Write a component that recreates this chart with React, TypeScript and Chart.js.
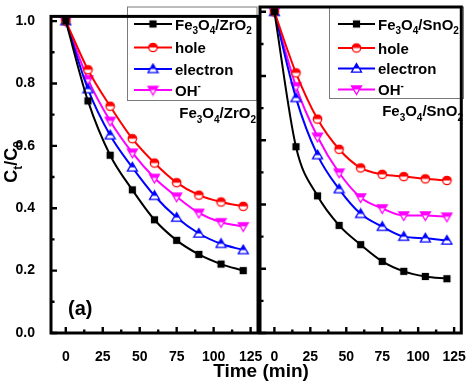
import React, { useEffect, useRef } from 'react';
import { Chart, registerables } from 'chart.js';

Chart.register(...registerables);

// Irradiation time (min)
const timeMin = [0, 15, 30, 45, 60, 75, 90, 105, 120];

// Fe3O4/ZrO2 panel: no scavenger, hole, electron and OH- scavengers
const zrCatalyst = [1.0, 0.744, 0.57, 0.459, 0.363, 0.297, 0.252, 0.221, 0.2];
const zrHole = [1.0, 0.844, 0.727, 0.623, 0.545, 0.482, 0.442, 0.42, 0.406];
const zrElectron = [1.0, 0.782, 0.634, 0.531, 0.44, 0.37, 0.319, 0.286, 0.266];
const zrOH = [1.0, 0.813, 0.68, 0.578, 0.497, 0.437, 0.385, 0.355, 0.342];

// Fe3O4/SnO2 panel
const snCatalyst = [1.0, 0.58, 0.427, 0.335, 0.275, 0.223, 0.192, 0.176, 0.169];
const snHole = [1.0, 0.81, 0.666, 0.572, 0.514, 0.494, 0.487, 0.48, 0.475];
const snElectron = [1.0, 0.732, 0.554, 0.448, 0.371, 0.331, 0.3, 0.295, 0.288];
const snOH = [1.0, 0.768, 0.611, 0.499, 0.422, 0.388, 0.366, 0.366, 0.362];

const xTickValues = [0, 25, 50, 75, 100, 125];
const xMinorValues = [12.5, 37.5, 62.5, 87.5, 112.5];
const yTickValues = [0, 0.2, 0.4, 0.6, 0.8, 1.0];
const yMinorValues = [0.1, 0.3, 0.5, 0.7, 0.9];

const seriesColors = ['#000000', '#ff0000', '#0000ff', '#ff00ff'];
const markerKinds = ['square', 'circle', 'triUp', 'triDown'];

const FONT = 'Arial, "Liberation Sans", Helvetica, sans-serif';

type Kind = 'n' | 'sub' | 'sup';
type Part = [string, Kind];

const zrLabel: Part[] = [['Fe', 'n'], ['3', 'sub'], ['O', 'n'], ['4', 'sub'], ['/ZrO', 'n'], ['2', 'sub']];
const snLabel: Part[] = [['Fe', 'n'], ['3', 'sub'], ['O', 'n'], ['4', 'sub'], ['/SnO', 'n'], ['2', 'sub']];
const holeLabel: Part[] = [['hole', 'n']];
const electronLabel: Part[] = [['electron', 'n']];
const ohLabel: Part[] = [['OH', 'n'], ['-', 'sup']];
const yTitle: Part[] = [['C', 'n'], ['t', 'sub'], ['/C', 'n'], ['0', 'sub']];

function partFont(kind: Kind, size: number) {
  const s = kind === 'n' ? size : Math.round(size * 0.68);
  return `bold ${s}px ${FONT}`;
}

function richWidth(ctx: CanvasRenderingContext2D, parts: Part[], size: number) {
  let w = 0;
  for (const [t, k] of parts) {
    ctx.font = partFont(k, size);
    w += ctx.measureText(t).width;
  }
  return w;
}

function drawRich(
  ctx: CanvasRenderingContext2D,
  parts: Part[],
  x: number,
  y: number,
  size: number,
  align: 'left' | 'center' | 'right' = 'left'
) {
  const w = richWidth(ctx, parts, size);
  let cx = align === 'left' ? x : align === 'center' ? x - w / 2 : x - w;
  ctx.save();
  ctx.fillStyle = '#000';
  ctx.textBaseline = 'alphabetic';
  ctx.textAlign = 'left';
  for (const [t, k] of parts) {
    ctx.font = partFont(k, size);
    const dy = k === 'sub' ? size * 0.3 : k === 'sup' ? -size * 0.42 : 0;
    ctx.fillText(t, cx, y + dy);
    cx += ctx.measureText(t).width;
  }
  ctx.restore();
}

// Origin-style symbols: solid square, half-filled circle and triangles
function makeMarker(kind: string, color: string): HTMLCanvasElement {
  const c = document.createElement('canvas');
  c.width = 13;
  c.height = 13;
  const g = c.getContext('2d') as CanvasRenderingContext2D;
  const cx = 6.5;
  const cy = 6.5;
  if (kind === 'square') {
    g.fillStyle = color;
    g.fillRect(cx - 3.6, cy - 3.6, 7.2, 7.2);
    return c;
  }
  const path = new Path2D();
  if (kind === 'circle') {
    path.arc(cx, cy, 4.2, 0, Math.PI * 2);
  } else if (kind === 'triUp') {
    path.moveTo(cx, cy - 5);
    path.lineTo(cx + 5, cy + 3.6);
    path.lineTo(cx - 5, cy + 3.6);
    path.closePath();
  } else {
    path.moveTo(cx, cy + 5);
    path.lineTo(cx + 5, cy - 3.6);
    path.lineTo(cx - 5, cy - 3.6);
    path.closePath();
  }
  g.fillStyle = '#ffffff';
  g.fill(path);
  g.save();
  g.beginPath();
  g.rect(0, 0, 13, cy);
  g.clip();
  g.fillStyle = color;
  g.fill(path);
  g.restore();
  g.strokeStyle = color;
  g.lineWidth = 1.3;
  g.stroke(path);
  return c;
}

type PanelSpec = {
  padding: { top: number; left: number; right: number; bottom: number };
  showY: boolean;
  legendBox: [number, number, number, number];
  rows: number[];
  lineX: [number, number];
  textX: number;
  labels: Part[][];
  note: { parts: Part[]; right: number; baseline: number };
  extras: boolean;
  markers: HTMLCanvasElement[];
};

const panelDecor = {
  id: 'panelDecor',
  afterDatasetsDraw(chart: any, _args: any, opts: PanelSpec) {
    const { ctx, chartArea: a } = chart;
    const x = chart.scales.x;
    const y = chart.scales.y;
    ctx.save();

    // legend box
    const [bx1, by1, bx2, by2] = opts.legendBox;
    ctx.fillStyle = '#ffffff';
    ctx.fillRect(bx1, by1, bx2 - bx1, by2 - by1);
    ctx.strokeStyle = '#7a7a7a';
    ctx.lineWidth = 1;
    ctx.strokeRect(bx1, by1, bx2 - bx1, by2 - by1);

    opts.rows.forEach((ry, i) => {
      ctx.strokeStyle = seriesColors[i];
      ctx.lineWidth = 2;
      ctx.beginPath();
      ctx.moveTo(opts.lineX[0], ry);
      ctx.lineTo(opts.lineX[1], ry);
      ctx.stroke();
      const m = opts.markers[i];
      const mx = (opts.lineX[0] + opts.lineX[1]) / 2;
      ctx.drawImage(m, mx - m.width / 2, ry - m.height / 2);
      drawRich(ctx, opts.labels[i], opts.textX, ry + 5.5, 15, 'left');
    });

    drawRich(ctx, opts.note.parts, opts.note.right, opts.note.baseline, 15, 'right');

    // inward tick marks
    ctx.strokeStyle = '#000';
    ctx.lineWidth = 2.4;
    ctx.beginPath();
    for (const v of xTickValues) {
      const px = x.getPixelForValue(v);
      ctx.moveTo(px, a.bottom);
      ctx.lineTo(px, a.bottom - 6);
    }
    for (const v of xMinorValues) {
      const px = x.getPixelForValue(v);
      ctx.moveTo(px, a.bottom);
      ctx.lineTo(px, a.bottom - 3.5);
    }
    for (const v of yTickValues) {
      const py = y.getPixelForValue(v);
      ctx.moveTo(a.left, py);
      ctx.lineTo(a.left + 6, py);
    }
    for (const v of yMinorValues) {
      const py = y.getPixelForValue(v);
      ctx.moveTo(a.left, py);
      ctx.lineTo(a.left + 3.5, py);
    }
    ctx.stroke();

    // frame
    ctx.lineWidth = 3;
    ctx.strokeRect(a.left, a.top, a.right - a.left, a.bottom - a.top);
    ctx.restore();
  },
  afterDraw(chart: any, _args: any, opts: PanelSpec) {
    if (!opts.extras) return;
    const { ctx } = chart;
    ctx.save();
    // y axis title
    ctx.translate(17, 162);
    ctx.rotate(-Math.PI / 2);
    drawRich(ctx, yTitle, 0, 0, 18, 'center');
    ctx.restore();

    ctx.save();
    ctx.fillStyle = '#000';
    ctx.textAlign = 'center';
    ctx.textBaseline = 'alphabetic';
    ctx.font = `bold 19px ${FONT}`;
    ctx.fillText('Time (min)', 261, 377);
    ctx.font = `bold 20px ${FONT}`;
    ctx.textAlign = 'left';
    ctx.fillText('(a)', 68, 315);
    ctx.restore();
  },
};

function buildConfig(series: number[][], spec: PanelSpec): any {
  const tickFont = { family: FONT, size: 14, weight: 'bold' as const };
  return {
    type: 'line',
    data: {
      datasets: series.map((vals, i) => ({
        label: String(i),
        data: timeMin.map((t, k) => ({ x: t, y: vals[k] })),
        borderColor: seriesColors[i],
        backgroundColor: seriesColors[i],
        borderWidth: 2,
        pointStyle: spec.markers[i],
        pointRadius: 5,
        cubicInterpolationMode: 'monotone',
        fill: false,
      })),
    },
    options: {
      responsive: false,
      animation: false,
      devicePixelRatio: 1,
      events: [],
      layout: { autoPadding: false, padding: spec.padding },
      plugins: {
        legend: { display: false },
        tooltip: { enabled: false },
        panelDecor: spec,
      },
      scales: {
        x: {
          type: 'linear',
          min: -10,
          max: 130,
          afterBuildTicks: (s: any) => {
            s.ticks = xTickValues.map((v) => ({ value: v }));
          },
          afterFit: (s: any) => {
            s.height = 51;
          },
          grid: { display: false },
          border: { display: false },
          ticks: {
            font: tickFont,
            color: '#000',
            padding: 8,
            maxRotation: 0,
            autoSkip: false,
            callback: (v: number) => String(v),
          },
        },
        y: {
          type: 'linear',
          min: 0,
          max: 1.015,
          display: spec.showY,
          afterBuildTicks: (s: any) => {
            s.ticks = yTickValues.map((v) => ({ value: v }));
          },
          afterFit: (s: any) => {
            s.width = spec.showY ? 51 : 0;
          },
          grid: { display: false },
          border: { display: false },
          ticks: {
            font: tickFont,
            color: '#000',
            padding: 8,
            autoSkip: false,
            callback: (v: number) => v.toFixed(1),
          },
        },
      },
    },
    plugins: [panelDecor],
  };
}

export default function App() {
  const refA = useRef<HTMLCanvasElement>(null);
  const refB = useRef<HTMLCanvasElement>(null);

  useEffect(() => {
    const markers = markerKinds.map((k, i) => makeMarker(k, seriesColors[i]));

    const specA: PanelSpec = {
      padding: { top: 7, left: 0, right: 216, bottom: 0 },
      showY: true,
      legendBox: [127.5, 7, 257, 100.5],
      rows: [24, 47.5, 69, 90],
      lineX: [134, 172],
      textX: 175,
      labels: [zrLabel, holeLabel, electronLabel, ohLabel],
      note: { parts: zrLabel, right: 256, baseline: 118 },
      extras: true,
      markers,
    };
    const specB: PanelSpec = {
      padding: { top: 7, left: 260, right: 6, bottom: 0 },
      showY: false,
      legendBox: [329.5, 7, 463.5, 98.5],
      rows: [24, 48, 68.5, 89.5],
      lineX: [338, 375],
      textX: 378,
      labels: [snLabel, holeLabel, electronLabel, ohLabel],
      note: { parts: snLabel, right: 463, baseline: 116 },
      extras: false,
      markers,
    };

    const chartA = new Chart(refA.current as HTMLCanvasElement, buildConfig([zrCatalyst, zrHole, zrElectron, zrOH], specA));
    const chartB = new Chart(refB.current as HTMLCanvasElement, buildConfig([snCatalyst, snHole, snElectron, snOH], specB));
    return () => {
      chartA.destroy();
      chartB.destroy();
    };
  }, []);

  return (
    <div style={{ position: 'fixed', left: 0, top: 0, width: 474, height: 384, background: '#ffffff' }}>
      <canvas ref={refA} width={474} height={384} style={{ position: 'absolute', left: 0, top: 0 }} />
      <canvas ref={refB} width={474} height={384} style={{ position: 'absolute', left: 0, top: 0 }} />
    </div>
  );
}
